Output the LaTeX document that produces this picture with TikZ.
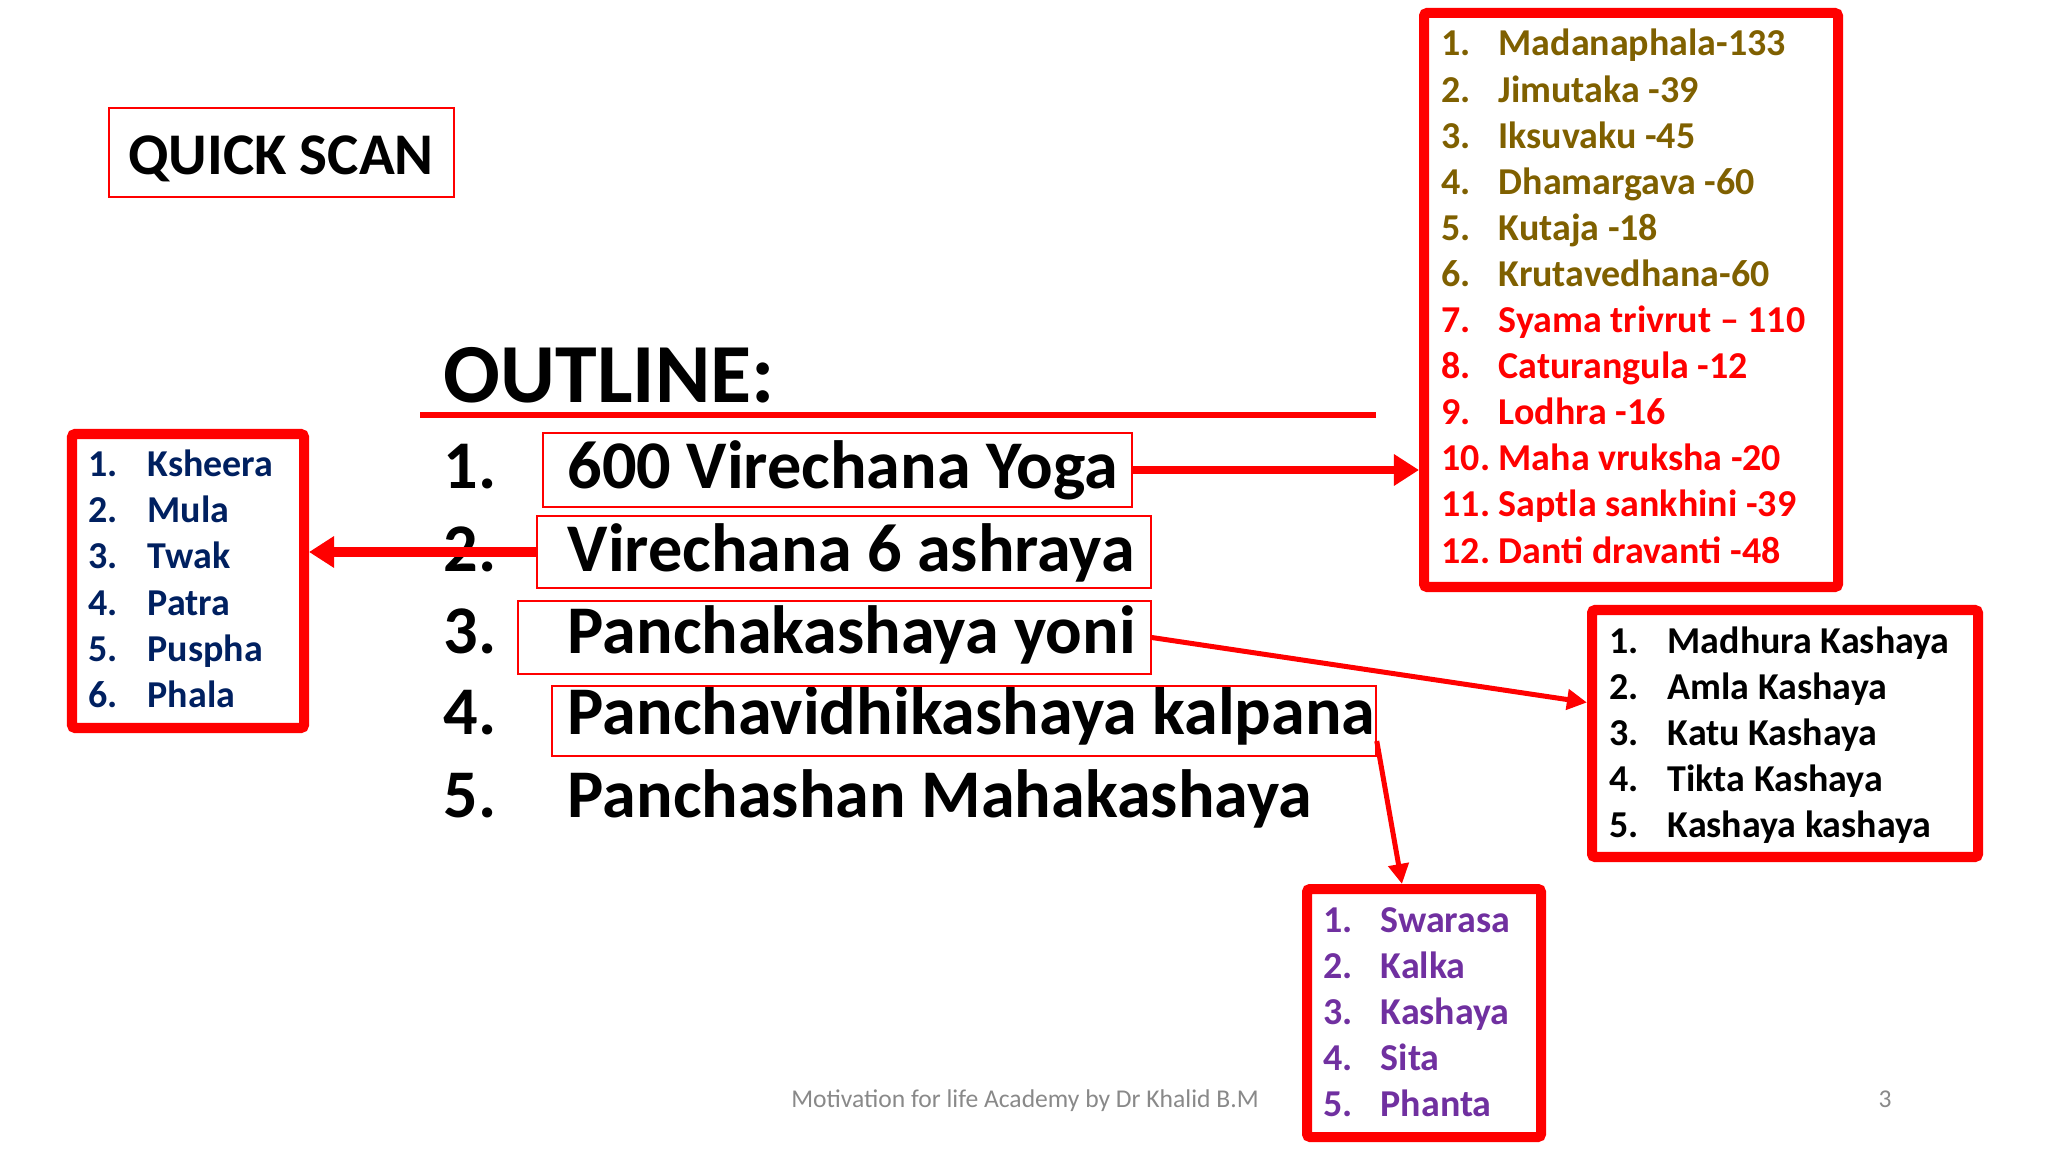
\documentclass[tikz,border=0pt]{standalone}
\usepackage{fontspec}
\setmainfont{Carlito}
\usetikzlibrary{arrows.meta,fit}

\definecolor{olivebrown}{HTML}{7F6000}
\definecolor{darknavy}{HTML}{002060}
\definecolor{darkpurple}{HTML}{7030A0}
\definecolor{footgray}{HTML}{898989}

\begin{document}
\begin{tikzpicture}[x=0.01cm,y=-0.01cm]

	%\draw[help lines] (0,0) grid[step=100] (2048,1152);

	\tikzset{item/.style={anchor=base west,inner sep=0pt,font=\fontsize{10.8}{12}\selectfont\bfseries}}
	\tikzset{big/.style={anchor=base west,inner sep=0pt,font=\fontsize{19.4}{22}\selectfont\bfseries}}
	\tikzset{thinbox/.style={draw=red,line width=0.015cm,inner sep=0pt}}
	\tikzset{listbox/.style={draw=red,line width=0.1cm,rounded corners=0.03cm,inner sep=0pt}}
	\tikzset{arr/.style={draw=red,-{Triangle[length=0.25cm,width=0.3cm]}}}

	\useasboundingbox (0,0) rectangle (2048,1152);

	% titles

	\node[thinbox,fit={(109,108) (454,197)}] (scan) {};
	\node[anchor=base,inner sep=0pt,font=\fontsize{16.8}{19}\selectfont\bfseries] (scantext) at (281,175) {QUICK SCAN};

	\node[anchor=base west,inner sep=0pt,font=\fontsize{23.9}{27}\selectfont\bfseries] (outline) at (443,403) {OUTLINE:};
	\draw[red,line width=0.06cm] (420,415) -- (1376,415);

	% outline

	\foreach \t [count=\i] in {600 Virechana Yoga,Virechana 6 ashraya,Panchakashaya yoni,Panchavidhikashaya kalpana,Panchashan Mahakashaya} {
		\node[big] (on\i) at (443,{489+82*(\i-1)}) {\i.};
		\node[big] (ot\i) at (567,{489+82*(\i-1)}) {\t};
	}

	\node[thinbox,fit={(543,433) (1132,507)}] (b1) {};
	\node[thinbox,fit={(537,516) (1151,588)}] (b2) {};
	\node[thinbox,fit={(518,601) (1151,674)}] (b3) {};
	\node[thinbox,fit={(552,686) (1376,756)}] (b4) {};

	% ashraya

	\foreach \t [count=\i] in {Ksheera,Mula,Twak,Patra,Puspha,Phala} {
		\node[item,text=darknavy] (kn\i) at (88,{477+46*(\i-1)}) {\i.};
		\node[item,text=darknavy] (kt\i) at (147,{477+46*(\i-1)}) {\t};
	}
	\node[listbox,fit={(72,434) (304,728)}] (kbox) {};

	% yoga

	\foreach \t [count=\i] in {Madanaphala-133,Jimutaka -39,Iksuvaku -45,Dhamargava -60,Kutaja -18,Krutavedhana-60} {
		\node[item,text=olivebrown] (dn\i) at (1441,{56+46.1*(\i-1)}) {\i.};
		\node[item,text=olivebrown] (dt\i) at (1498,{56+46.1*(\i-1)}) {\t};
	}
	\foreach \t [count=\i from 7] in {Syama trivrut -- 110,Caturangula -12,Lodhra -16,Maha vruksha -20,Saptla sankhini -39,Danti dravanti -48} {
		\node[item,text=red] (dn\i) at (1441,{56+46.1*(\i-1)}) {\i.};
		\node[item,text=red] (dt\i) at (1498,{56+46.1*(\i-1)}) {\t};
	}
	\node[listbox,fit={(1424,13) (1838,587)}] (dbox) {};

	% kashaya

	\foreach \t [count=\i] in {Madhura Kashaya,Amla Kashaya,Katu Kashaya,Tikta Kashaya,Kashaya kashaya} {
		\node[item] (rn\i) at (1609,{653+46*(\i-1)}) {\i.};
		\node[item] (rt\i) at (1667,{653+46*(\i-1)}) {\t};
	}
	\node[listbox,fit={(1592,610) (1978,857)}] (rbox) {};

	% kalpana

	\foreach \t [count=\i] in {Swarasa,Kalka,Kashaya,Sita,Phanta} {
		\node[item,text=darkpurple] (pn\i) at (1323,{932+46*(\i-1)}) {\i.};
		\node[item,text=darkpurple] (pt\i) at (1380,{932+46*(\i-1)}) {\t};
	}
	\node[listbox,fit={(1307,889) (1541,1137)}] (pbox) {};

	% arrows

	\draw[arr,line width=0.08cm] (b1.east) -- (b1.east -| dbox.west);
	\draw[arr,line width=0.09cm] (b2.west) -- (b2.west -| kbox.east);
	\draw[arr,line width=0.05cm,-{Triangle[length=0.2cm,width=0.2cm]}] (b3.east) -- ([yshift=0.31cm]rbox.west);
	\draw[arr,line width=0.05cm,-{Triangle[length=0.2cm,width=0.2cm]}] ([yshift=-0.2cm]b4.east) -- ([xshift=-0.22cm]pbox.north);

	% footer

	\node[anchor=base,inner sep=0pt,text=footgray,font=\fontsize{7.28}{9}\selectfont] (foot) at (1025,1107) {Motivation for life Academy by Dr Khalid B.M};
	\node[anchor=base,inner sep=0pt,text=footgray,font=\fontsize{7.28}{9}\selectfont] (page) at (1885,1107) {3};

\end{tikzpicture}
\end{document}
